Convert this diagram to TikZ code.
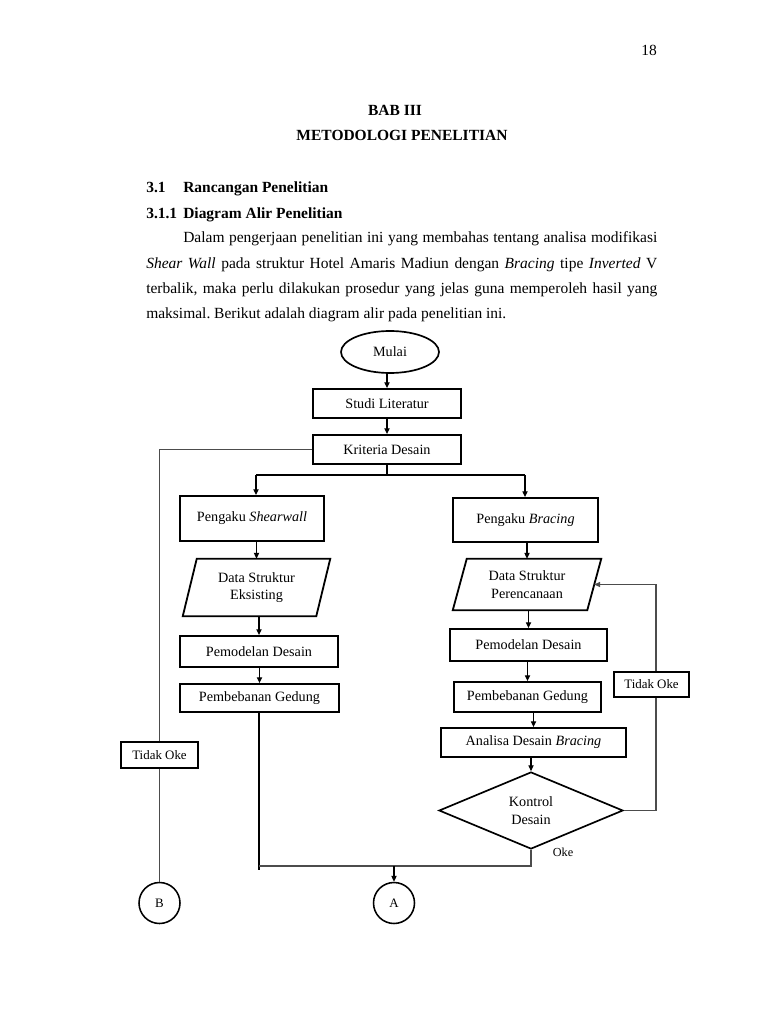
\documentclass[tikz,border=0pt]{standalone}
\usepackage{fontspec}
\setmainfont{Liberation Serif}
\usetikzlibrary{shapes.geometric,arrows.meta,calc}
\newlength\px \setlength\px{0.7747pt}
\frenchspacing
\begin{document}
\begin{tikzpicture}[x=0.7747pt,y=-0.7747pt,
  sz/.style 2 args={minimum width=#1*\px, minimum height=#2*\px},
  txt/.style={inner sep=0pt, font=\fontsize{12}{14}\selectfont},
  hd/.style={inner sep=0pt, font=\bfseries\fontsize{12}{14}\selectfont},
  box/.style={draw, line width=1.4pt, inner sep=0pt, align=center, font=\fontsize{11}{13.5}\selectfont},
  pgram/.style={inner sep=0pt, align=center, font=\fontsize{11}{13.5}\selectfont},
  thinbox/.style={draw, fill=white, line width=1.1pt, inner sep=0pt, align=center, font=\fontsize{10}{12}\selectfont},
  term/.style={draw, ellipse, line width=1.3pt, inner sep=0pt, font=\fontsize{11}{13}\selectfont},
  conn/.style={draw, circle, line width=1.2pt, inner sep=0pt, minimum size=41*\px, font=\fontsize{10}{12}\selectfont},
  dec/.style={draw, diamond, line width=1.3pt, inner sep=0pt, align=center, font=\fontsize{11}{13.5}\selectfont},
  arr/.style={line width=0.9pt, -{Triangle[length=4.5pt,width=4pt]}},
  ln/.style={line width=0.9pt},
  gln/.style={line width=0.8pt, draw=black!70},
  garr/.style={line width=0.8pt, draw=black!70, -{Triangle[length=4.5pt,width=4pt]}},
  shape line/.style={line width=1.4pt}
]
\useasboundingbox (0,0) rectangle (768,1024);
\fill[white] (0,0) rectangle (768,1024);

% header text
\node[txt, anchor=base east] (pgnum) at (657,56) {18};
\node[hd, anchor=base] (bab) at (395,116) {BAB III};
\node[hd, anchor=base] (metod) at (402,141) {METODOLOGI PENELITIAN};
\node[hd, anchor=base west] (s31n) at (146,193) {3.1};
\node[hd, anchor=base west] (s31t) at (183,193) {Rancangan Penelitian};
\node[hd, anchor=base west] (s311n) at (146,218) {3.1.1};
\node[hd, anchor=base west] (s311t) at (183,218) {Diagram Alir Penelitian};
\node[txt, anchor=base west] (p1) at (183,243) {\makebox[474\px][s]{Dalam pengerjaan penelitian ini yang membahas tentang analisa modifikasi}};
\node[txt, anchor=base west] (p2) at (146,268) {\makebox[511\px][s]{\textit{Shear Wall} pada struktur Hotel Amaris Madiun dengan \textit{Bracing} tipe \textit{Inverted} V}};
\node[txt, anchor=base west] (p3) at (146,293) {\makebox[511\px][s]{terbalik, maka perlu dilakukan prosedur yang jelas guna memperoleh hasil yang}};
\node[txt, anchor=base west] (p4) at (146,318) {maksimal. Berikut adalah diagram alir pada penelitian ini.};

% flowchart nodes
\node[term, sz={98}{42}] (mulai) at (390,352) {Mulai};
\node[box, sz={148}{29}] (studi) at (387,403.5) {Studi Literatur};
\node[box, sz={148}{29}] (krit) at (387,449.5) {Kriteria Desain};

\node[box, sz={144}{45}] (psw) at (252,518.5) {Pengaku \textit{Shearwall}};
\node[pgram, sz={133}{57}] (ds1) at (256.5,587.5) {Data Struktur\\Eksisting};
\node[box, sz={158}{31}] (pm1) at (259,651.5) {Pemodelan Desain};
\node[box, sz={159}{28}] (pb1) at (259.5,698) {Pembebanan Gedung};

\node[box, sz={145}{44}] (pbr) at (525.5,520) {Pengaku \textit{Bracing}};
\node[pgram, sz={134}{51}] (ds2) at (527,584.5) {Data Struktur\\Perencanaan};
\node[box, sz={157}{32}] (pm2) at (528.5,645) {Pemodelan Desain};
\node[box, sz={147}{30}] (pb2) at (527.5,697) {Pembebanan Gedung};
\node[box, sz={185}{29}] (an) at (533.5,742.5) {Analisa Desain \textit{Bracing}};
\node[dec, sz={184}{77}] (kon) at (531,810.5) {Kontrol\\Desain};
\node[inner sep=0pt, font=\fontsize{9.5}{11}\selectfont] (oke) at (563,852) {Oke};

\node[thinbox, sz={77}{26}] (tk1) at (159.5,755) {Tidak Oke};
\node[thinbox, sz={75}{25}] (tk2) at (651.5,684.5) {Tidak Oke};

\node[conn] (B) at (159.5,903) {B};
\node[conn] (A) at (394,903) {A};

% parallelogram outlines
\draw[shape line] ($(ds1.north west)+(7,0)$) -- ($(ds1.north east)+(7,0)$) -- ($(ds1.south east)+(-7,0)$) -- ($(ds1.south west)+(-7,0)$) -- cycle;
\draw[shape line] ($(ds2.north west)+(7,0)$) -- ($(ds2.north east)+(7,0)$) -- ($(ds2.south east)+(-7,0)$) -- ($(ds2.south west)+(-7,0)$) -- cycle;

% helper coordinates
\coordinate (split) at (387,475);
\coordinate (sl) at (256,475);
\coordinate (sr) at (525,475);
\coordinate (join) at (259,866);
\coordinate (fr) at (656,0);

% connectors
\draw[arr] (mulai.south -| studi.north) -- (studi.north);
\draw[arr] (studi.south) -- (krit.north);
\draw[ln] (krit.south) -- (split);
\draw[ln] (sl) -- (sr);
\draw[arr] (sl) -- (sl |- psw.north);
\draw[arr] (sr) -- (sr |- pbr.north);

\draw[arr] (psw.south -| ds1.north) -- (ds1.north);
\draw[arr] (ds1.south -| pm1.north) -- (pm1.north);
\draw[arr] (pm1.south -| pb1.north) -- (pb1.north);
\draw[ln] (pb1.south -| join) -- ($(join)+(0,4)$);

\draw[arr] (pbr.south -| ds2.north) -- (ds2.north);
\draw[arr] (ds2.south -| pm2.north) -- (pm2.north);
\draw[arr] (pm2.south -| pb2.north) -- (pb2.north);
\draw[arr] (pb2.south -| an.north) -- (an.north);
\draw[arr] (an.south -| kon.north) -- (kon.north);

\draw[gln] (kon.south) -- (kon.south |- join) -- (join);
\draw[arr] (join -| A.north) -- (A.north);

\draw[gln] (kon.east) -- (kon.east -| fr) -- (fr |- tk2.south);
\draw[garr] (fr |- tk2.north) -- (fr |- ds2.east) -- (ds2.east);

\draw[gln] (krit.west) -- (krit.west -| tk1.north) -- (tk1.north);
\draw[gln] (tk1.south) -- (B.north);
\end{tikzpicture}
\end{document}
